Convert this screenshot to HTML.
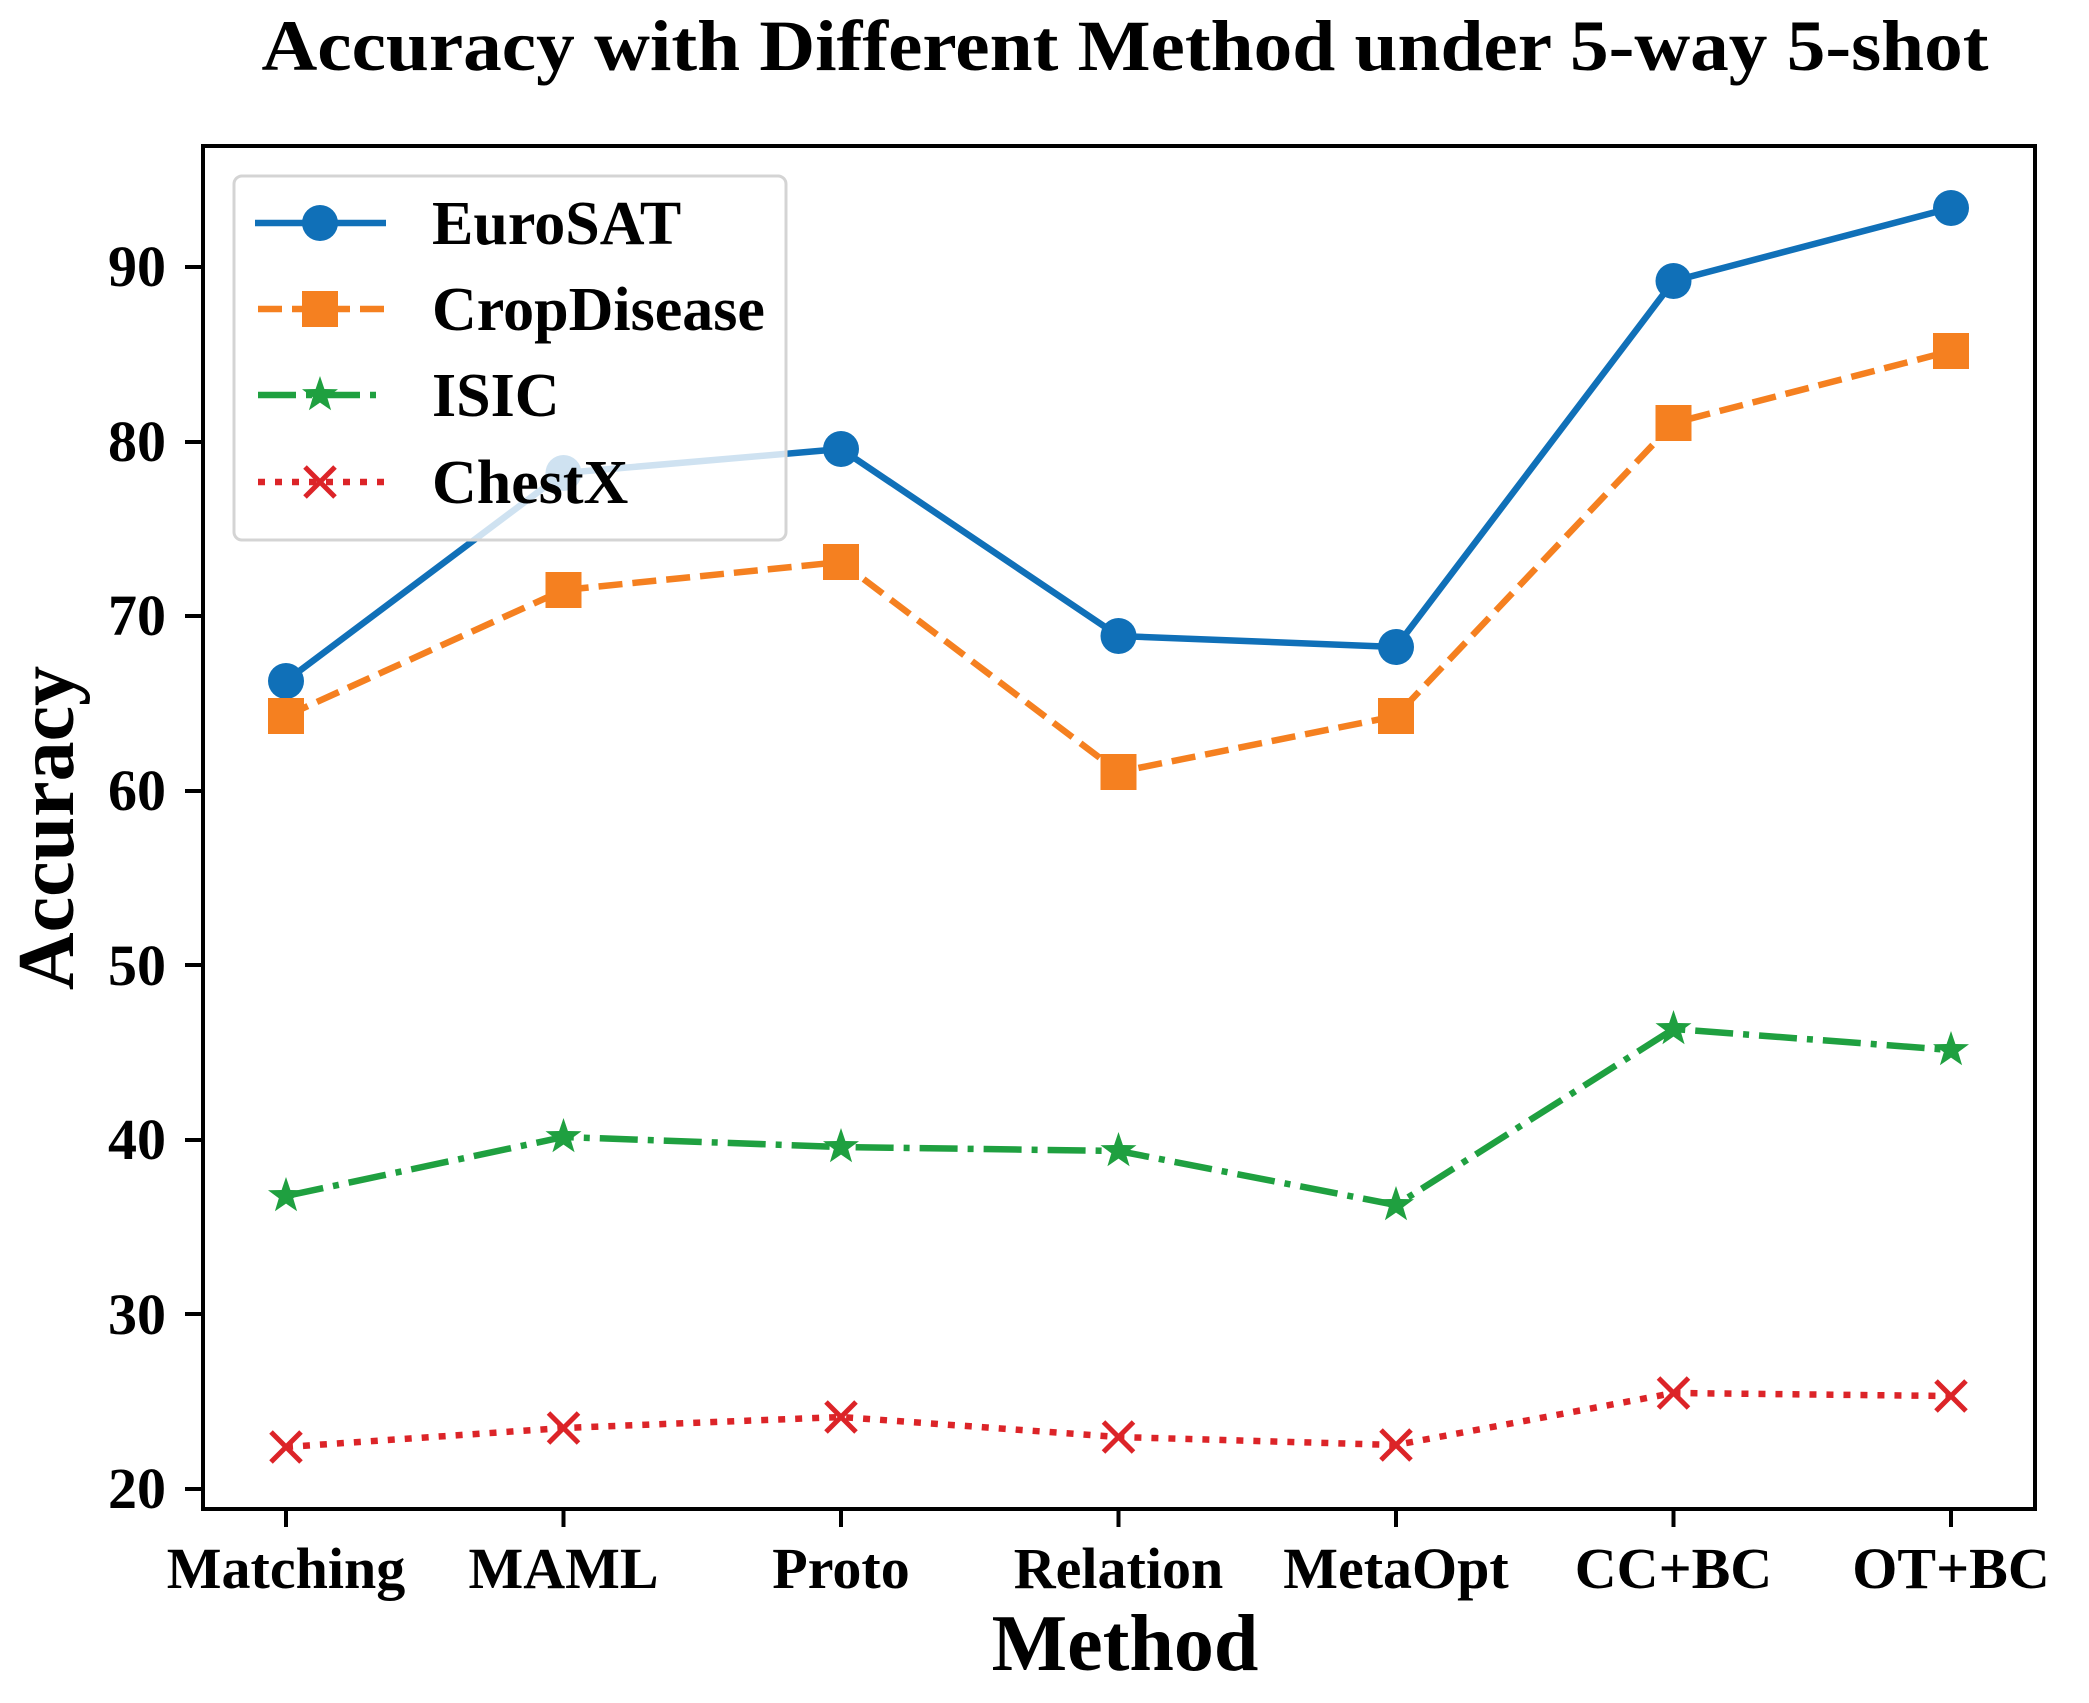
<!DOCTYPE html>
<html><head><meta charset="utf-8"><style>html,body{margin:0;padding:0;background:#fff}svg{display:block}</style></head><body>
<svg width="2089" height="1703" viewBox="0 0 2089 1703" xmlns="http://www.w3.org/2000/svg" font-family="Liberation Serif, serif" font-weight="bold">
<rect width="2089" height="1703" fill="#fff"/>
<text x="1125" y="70" font-size="72" text-anchor="middle" textLength="1727" lengthAdjust="spacingAndGlyphs">Accuracy with Different Method under 5-way 5-shot</text>
<g font-size="58" text-anchor="end">
<text x="166" y="1508">20</text><text x="166" y="1334">30</text><text x="166" y="1159">40</text><text x="166" y="985">50</text><text x="166" y="810">60</text><text x="166" y="635">70</text><text x="166" y="461">80</text><text x="166" y="286">90</text>
</g>
<g stroke="#000" stroke-width="4">
<line x1="185" y1="1489" x2="203" y2="1489"/><line x1="185" y1="1314" x2="203" y2="1314"/><line x1="185" y1="1140" x2="203" y2="1140"/><line x1="185" y1="965" x2="203" y2="965"/><line x1="185" y1="791" x2="203" y2="791"/><line x1="185" y1="616" x2="203" y2="616"/><line x1="185" y1="442" x2="203" y2="442"/><line x1="185" y1="267" x2="203" y2="267"/>
<line x1="286" y1="1509" x2="286" y2="1527"/><line x1="563.5" y1="1509" x2="563.5" y2="1527"/><line x1="841" y1="1509" x2="841" y2="1527"/><line x1="1118.5" y1="1509" x2="1118.5" y2="1527"/><line x1="1396" y1="1509" x2="1396" y2="1527"/><line x1="1673.5" y1="1509" x2="1673.5" y2="1527"/><line x1="1951" y1="1509" x2="1951" y2="1527"/>
</g>
<g font-size="58" text-anchor="middle">
<text x="286" y="1588">Matching</text><text x="563.5" y="1588">MAML</text><text x="841" y="1588">Proto</text><text x="1118.5" y="1588">Relation</text><text x="1396" y="1588">MetaOpt</text><text x="1673.5" y="1588">CC+BC</text><text x="1951" y="1588">OT+BC</text>
</g>
<text x="1125" y="1670" font-size="80" text-anchor="middle">Method</text>
<text transform="translate(73,828) rotate(-90)" font-size="80" text-anchor="middle">Accuracy</text>
<g fill="none" stroke-width="6.5" stroke-linejoin="round">
<polyline stroke="#1070b8" points="286,681 563.5,473 841,449 1118.5,636 1396,647 1673.5,281 1951,208"/>
<polyline stroke="#f58020" stroke-dasharray="24,10" points="286,716 563.5,590 841,562 1118.5,772 1396,716 1673.5,423 1951,351"/>
<polyline stroke="#1fa040" stroke-dasharray="38,10,6,10" points="286,1196 563.5,1137 841,1147 1118.5,1151 1396,1205 1673.5,1029 1951,1050"/>
<polyline stroke="#dc2428" stroke-dasharray="7,10" points="286,1447 563.5,1428 841,1417 1118.5,1437 1396,1445 1673.5,1393 1951,1396"/>
</g>
<g fill="#1070b8">
<circle cx="286" cy="681" r="18"/><circle cx="563.5" cy="473" r="18"/><circle cx="841" cy="449" r="18"/><circle cx="1118.5" cy="636" r="18"/><circle cx="1396" cy="647" r="18"/><circle cx="1673.5" cy="281" r="18"/><circle cx="1951" cy="208" r="18"/>
</g>
<g fill="#f58020">
<rect x="268" y="698" width="36" height="36"/><rect x="545.5" y="572" width="36" height="36"/><rect x="823" y="544" width="36" height="36"/><rect x="1100.5" y="754" width="36" height="36"/><rect x="1378" y="698" width="36" height="36"/><rect x="1655.5" y="405" width="36" height="36"/><rect x="1933" y="333" width="36" height="36"/>
</g>
<defs>
<polygon id="st" points="0,-19 4.4,-6 18,-5.8 7.2,2.3 11.1,15.3 0,7.6 -11.1,15.3 -7.2,2.3 -18,-5.8 -4.4,-6" fill="#1fa040"/>
<path id="xm" d="M-15,-15L15,15M-15,15L15,-15" stroke="#dc2428" stroke-width="5" fill="none"/>
</defs>
<use href="#st" x="286" y="1196"/><use href="#st" x="563.5" y="1137"/><use href="#st" x="841" y="1147"/><use href="#st" x="1118.5" y="1151"/><use href="#st" x="1396" y="1205"/><use href="#st" x="1673.5" y="1029"/><use href="#st" x="1951" y="1050"/>
<use href="#xm" x="286" y="1447"/><use href="#xm" x="563.5" y="1428"/><use href="#xm" x="841" y="1417"/><use href="#xm" x="1118.5" y="1437"/><use href="#xm" x="1396" y="1445"/><use href="#xm" x="1673.5" y="1393"/><use href="#xm" x="1951" y="1396"/>
<rect x="234" y="176" width="552" height="364" rx="8" fill="#fff" fill-opacity="0.8" stroke="#d4d4d4" stroke-width="3"/>
<line x1="255" y1="223" x2="386" y2="223" stroke="#1070b8" stroke-width="6.5"/><circle cx="320" cy="223" r="18" fill="#1070b8"/>
<line x1="258" y1="309" x2="386" y2="309" stroke="#f58020" stroke-width="6.5" stroke-dasharray="24,10"/><rect x="302" y="291" width="36" height="36" fill="#f58020"/>
<line x1="258" y1="395" x2="386" y2="395" stroke="#1fa040" stroke-width="6.5" stroke-dasharray="38,10,6,10"/><use href="#st" x="320" y="395"/>
<line x1="258" y1="482" x2="386" y2="482" stroke="#dc2428" stroke-width="6.5" stroke-dasharray="7,10"/><use href="#xm" x="320" y="482"/>
<g font-size="62">
<text x="432" y="244">EuroSAT</text><text x="432" y="330">CropDisease</text><text x="432" y="416">ISIC</text><text x="432" y="503">ChestX</text>
</g>
<rect x="203" y="146" width="1832" height="1363" fill="none" stroke="#000" stroke-width="4"/>
</svg>
</body></html>
